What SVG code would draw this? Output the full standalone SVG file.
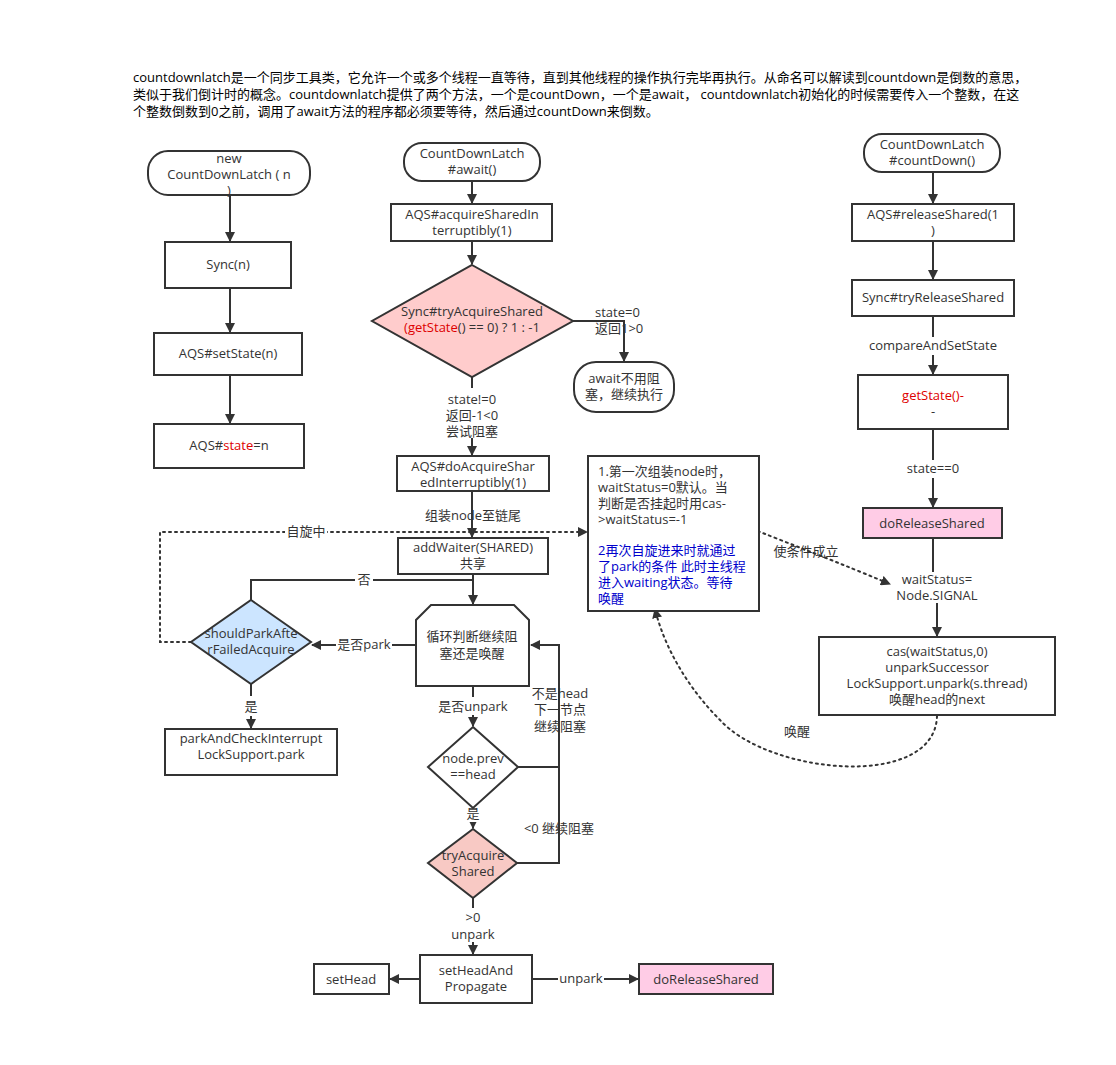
<svg xmlns="http://www.w3.org/2000/svg" width="1116" height="1065" viewBox="0 0 1116 1065">
<defs>
<marker id="ah" markerWidth="10" markerHeight="10" refX="9" refY="5" orient="auto" markerUnits="userSpaceOnUse"><path d="M0,0 L10,5 L0,10 Z" fill="#333"/></marker>
<style>
text{font-family:"Open Sans","Noto Sans CJK SC",sans-serif;font-size:13px;fill:#333;text-anchor:middle}
.hd{text-anchor:start;fill:#000;font-size:13px}
.b{fill:#fff;stroke:#333;stroke-width:2}
.c line,.c path,.c polyline{fill:none;stroke:#333;stroke-width:2}
.c .d{stroke-dasharray:2 4;stroke-linecap:round}
.a{marker-end:url(#ah)}
.lb{fill:#fff}
.red{fill:#d00}
.blue{fill:#00c}
.l{text-anchor:start}
</style>
</defs>
<rect width="1116" height="1065" fill="#fff"/>
<g id="header">
<text class="hd" x="133" y="82">countdownlatch是一个同步工具类，它允许一个或多个线程一直等待，直到其他线程的操作执行完毕再执行。从命名可以解读到countdown是倒数的意思，</text>
<text class="hd" x="133" y="99">类似于我们倒计时的概念。countdownlatch提供了两个方法，一个是countDown，一个是await， countdownlatch初始化的时候需要传入一个整数，在这</text>
<text class="hd" x="133" y="116">个整数倒数到0之前，调用了await方法的程序都必须要等待，然后通过countDown来倒数。</text>
</g>
<g class="c" id="connectors">
<line class="a" x1="230" y1="195" x2="230" y2="241"/>
<line class="a" x1="230" y1="288" x2="230" y2="332"/>
<line class="a" x1="230" y1="375" x2="230" y2="423"/>
<line class="a" x1="472" y1="181" x2="472" y2="203"/>
<line class="a" x1="472" y1="241" x2="472" y2="264"/>
<polyline class="a" points="573,321 624,321 624,361"/>
<line class="a" x1="472" y1="377" x2="472" y2="455"/>
<line class="a" x1="472" y1="491" x2="472" y2="537"/>
<line class="a" x1="473" y1="574" x2="473" y2="604"/>
<polyline points="473,580 251,580 251,600"/>
<line class="a" x1="416" y1="645" x2="312" y2="645"/>
<line class="a" x1="251" y1="684" x2="251" y2="728"/>
<line class="a" x1="473" y1="686" x2="473" y2="726"/>
<polyline class="a" points="518,767 559,767 559,645 531,645"/>
<line class="a" x1="473" y1="808" x2="473" y2="828"/>
<polyline points="517,863 559,863 559,767"/>
<line class="a" x1="473" y1="898" x2="473" y2="954"/>
<line class="a" x1="420" y1="979" x2="390" y2="979"/>
<line class="a" x1="532" y1="979" x2="638" y2="979"/>
<line class="a" x1="933" y1="172" x2="933" y2="203"/>
<line class="a" x1="933" y1="241" x2="933" y2="279"/>
<line class="a" x1="933" y1="316" x2="933" y2="374"/>
<line class="a" x1="933" y1="429" x2="933" y2="507"/>
<line x1="933" y1="538" x2="933" y2="572"/>
<line class="a" x1="937" y1="603" x2="937" y2="636"/>
<polyline class="d a" points="191,642 160,642 160,532 587,532"/>
<path class="d a" d="M724,518 Q820,555 890,584"/>
<path class="d a" d="M937,716 C935,790 770,775 720,720 C690,690 665,650 655,609"/>
</g>
<g id="edge-labels">
<text x="595" y="317" class="l">state=0</text>
<text x="595" y="333" class="l">返回1&gt;0</text>
<rect class="lb" x="440" y="388" width="64" height="50"/>
<text x="472" y="404">state!=0</text>
<text x="472" y="420">返回-1&lt;0</text>
<text x="472" y="436">尝试阻塞</text>
<text x="473" y="520">组装node至链尾</text>
<rect class="lb" x="285" y="524" width="42" height="15"/>
<text x="306" y="536">自旋中</text>
<rect class="lb" x="355" y="572" width="18" height="16"/>
<text x="364" y="584">否</text>
<rect class="lb" x="336" y="637" width="56" height="16"/>
<text x="364" y="649">是否park</text>
<rect class="lb" x="243" y="696" width="16" height="20"/>
<text x="251" y="711">是</text>
<rect class="lb" x="435" y="697" width="76" height="18"/>
<text x="473" y="711">是否unpark</text>
<text x="560" y="698">不是head</text>
<text x="560" y="714">下一节点</text>
<text x="560" y="731">继续阻塞</text>
<rect class="lb" x="465" y="805" width="16" height="17"/>
<text x="473" y="818">是</text>
<text x="559" y="833">&lt;0 继续阻塞</text>
<rect class="lb" x="445" y="908" width="56" height="34"/>
<text x="473" y="922">&gt;0</text>
<text x="473" y="939">unpark</text>
<rect class="lb" x="558" y="971" width="46" height="16"/>
<text x="581" y="983">unpark</text>
<rect class="lb" x="860" y="337" width="146" height="18"/>
<text x="933" y="350">compareAndSetState</text>
<rect class="lb" x="898" y="460" width="70" height="18"/>
<text x="933" y="473">state==0</text>
<text x="937" y="584">waitStatus=</text>
<text x="937" y="600">Node.SIGNAL</text>
<text x="806" y="556">使条件成立</text>
<text x="797" y="736">唤醒</text>
</g>
<g id="n-new"><rect class="b" x="148" y="151" width="162" height="44" rx="20"/><text x="229" y="163">new</text><text x="229" y="179">CountDownLatch ( n</text><text x="229" y="195">)</text></g>
<g id="n-sync"><rect class="b" x="165" y="242" width="126" height="46"/><text x="228" y="269">Sync(n)</text></g>
<g id="n-setstate"><rect class="b" x="154" y="333" width="148" height="42"/><text x="228" y="358">AQS#setState(n)</text></g>
<g id="n-state"><rect class="b" x="154" y="424" width="150" height="44"/><text x="229" y="450">AQS#<tspan class="red">state</tspan>=n</text></g>
<g id="n-await"><rect class="b" x="404" y="143" width="136" height="38" rx="18"/><text x="472" y="158">CountDownLatch</text><text x="472" y="174">#await()</text></g>
<g id="n-acq"><rect class="b" x="391" y="204" width="161" height="37"/><text x="472" y="219">AQS#acquireSharedIn</text><text x="472" y="235">terruptibly(1)</text></g>
<g id="n-tryacq"><polygon points="472,265 573,321 472,377 372,321" fill="#ffcccc" stroke="#333" stroke-width="2"/><text x="472" y="316">Sync#tryAcquireShared</text><text x="472" y="332"><tspan class="red">(getState</tspan>() == 0) ? 1 : -1</text></g>
<g id="n-awaitnb"><rect class="b" x="574" y="362" width="100" height="50" rx="22"/><text x="624" y="383">await不用阻</text><text x="624" y="399">塞，继续执行</text></g>
<g id="n-doacq"><rect class="b" x="397" y="456" width="152" height="35"/><text x="473" y="471">AQS#doAcquireShar</text><text x="473" y="487">edInterruptibly(1)</text></g>
<g id="n-addwaiter"><rect class="b" x="398" y="538" width="150" height="36"/><text x="473" y="552">addWaiter(SHARED)</text><text x="473" y="568">共享</text></g>
<g id="n-loop"><polygon points="431,605 514,605 529,620 529,686 416,686 416,620" fill="#fff" stroke="#333" stroke-width="2"/><text x="472" y="641">循环判断继续阻</text><text x="472" y="658">塞还是唤醒</text></g>
<g id="n-should"><polygon points="251,600 311,642 251,684 191,642" fill="#cce5ff" stroke="#333" stroke-width="2"/><text x="251" y="638">shouldParkAfte</text><text x="251" y="654">rFailedAcquire</text></g>
<g id="n-park"><rect class="b" x="165" y="729" width="172" height="46"/><text x="251" y="743">parkAndCheckInterrupt</text><text x="251" y="759">LockSupport.park</text></g>
<g id="n-prev"><polygon points="473,727 518,767 473,808 428,767" fill="#fff" stroke="#333" stroke-width="2"/><text x="473" y="763">node.prev</text><text x="473" y="779">==head</text></g>
<g id="n-tryacq2"><polygon points="473,829 517,863 473,898 428,863" fill="#f8c9c4" stroke="#333" stroke-width="2"/><text x="473" y="860">tryAcquire</text><text x="473" y="876">Shared</text></g>
<g id="n-sethap"><rect class="b" x="420" y="955" width="112" height="48"/><text x="476" y="975">setHeadAnd</text><text x="476" y="991">Propagate</text></g>
<g id="n-sethead"><rect class="b" x="314" y="964" width="75" height="30"/><text x="351" y="984">setHead</text></g>
<g id="n-dorel2"><rect x="639" y="964" width="134" height="30" fill="#ffcce6" stroke="#333" stroke-width="2"/><text x="706" y="984">doReleaseShared</text></g>
<g id="n-note"><rect class="b" x="588" y="456" width="171" height="155"/>
<text class="l" x="598" y="476">1.第一次组装node时，</text><text class="l" x="598" y="492">waitStatus=0默认。当</text><text class="l" x="598" y="508">判断是否挂起时用cas-</text><text class="l" x="598" y="524">&gt;waitStatus=-1</text>
<text class="l blue" x="598" y="555">2再次自旋进来时就通过</text><text class="l blue" x="598" y="571">了park的条件 此时主线程</text><text class="l blue" x="598" y="587">进入waiting状态。等待</text><text class="l blue" x="598" y="603">唤醒</text></g>
<g id="n-countdown"><rect class="b" x="864" y="134" width="136" height="38" rx="18"/><text x="932" y="149">CountDownLatch</text><text x="932" y="165">#countDown()</text></g>
<g id="n-relshared"><rect class="b" x="852" y="204" width="162" height="37"/><text x="933" y="219">AQS#releaseShared(1</text><text x="933" y="235">)</text></g>
<g id="n-tryrel"><rect class="b" x="852" y="280" width="162" height="36"/><text x="933" y="302">Sync#tryReleaseShared</text></g>
<g id="n-getstate"><rect class="b" x="858" y="375" width="150" height="54"/><text x="933" y="400" class="red">getState()-</text><text x="933" y="416">-</text></g>
<g id="n-dorel"><rect x="863" y="508" width="139" height="30" fill="#ffcce6" stroke="#333" stroke-width="2"/><text x="932" y="528">doReleaseShared</text></g>
<g id="n-cas"><rect class="b" x="819" y="637" width="236" height="78"/><text x="937" y="656">cas(waitStatus,0)</text><text x="937" y="672">unparkSuccessor</text><text x="937" y="688">LockSupport.unpark(s.thread)</text><text x="937" y="704">唤醒head的next</text></g>
</svg>
